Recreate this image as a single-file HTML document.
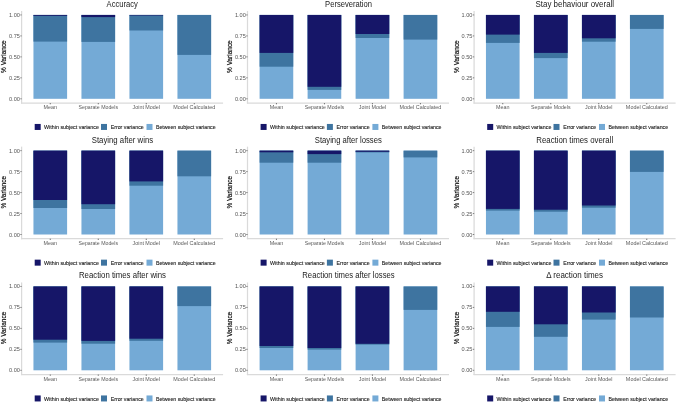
<!DOCTYPE html><html><head><meta charset="utf-8"><style>html,body{margin:0;padding:0;background:#fff;}svg{display:block;will-change:transform;}text{font-family:"Liberation Sans",sans-serif;}</style></head><body>
<svg width="676" height="403" viewBox="0 0 676 403">
<rect width="676" height="403" fill="#fff"/>
<text x="106.6" y="7" font-size="8.6" fill="#1a1a1a" textLength="31.2" lengthAdjust="spacingAndGlyphs">Accuracy</text>
<rect x="33.45" y="14.95" width="33.65" height="83.85" fill="#74aad6"/>
<rect x="33.45" y="14.95" width="33.65" height="26.65" fill="#3e74a0"/>
<rect x="33.45" y="14.95" width="33.65" height="0.85" fill="#161668"/>
<rect x="81.45" y="14.95" width="33.65" height="83.85" fill="#74aad6"/>
<rect x="81.45" y="14.95" width="33.65" height="26.95" fill="#3e74a0"/>
<rect x="81.45" y="14.95" width="33.65" height="2.15" fill="#161668"/>
<rect x="129.45" y="14.95" width="33.65" height="83.85" fill="#74aad6"/>
<rect x="129.45" y="14.95" width="33.65" height="15.55" fill="#3e74a0"/>
<rect x="129.45" y="14.95" width="33.65" height="0.55" fill="#161668"/>
<rect x="177.45" y="14.95" width="33.65" height="83.85" fill="#74aad6"/>
<rect x="177.45" y="14.95" width="33.65" height="39.95" fill="#3e74a0"/>
<line x1="21.6" y1="10.95" x2="21.6" y2="103.6" stroke="#dadada" stroke-width="1.25"/>
<line x1="21" y1="103" x2="223.1" y2="103" stroke="#dadada" stroke-width="1.25"/>
<line x1="20.3" y1="14.95" x2="21.7" y2="14.95" stroke="#666" stroke-width="0.8"/>
<text x="19.9" y="16.95" font-size="5.6" fill="#555555" text-anchor="end" textLength="10.9" lengthAdjust="spacingAndGlyphs">1.00</text>
<line x1="20.3" y1="35.91" x2="21.7" y2="35.91" stroke="#666" stroke-width="0.8"/>
<text x="19.9" y="37.91" font-size="5.6" fill="#555555" text-anchor="end" textLength="10.9" lengthAdjust="spacingAndGlyphs">0.75</text>
<line x1="20.3" y1="56.88" x2="21.7" y2="56.88" stroke="#666" stroke-width="0.8"/>
<text x="19.9" y="58.88" font-size="5.6" fill="#555555" text-anchor="end" textLength="10.9" lengthAdjust="spacingAndGlyphs">0.50</text>
<line x1="20.3" y1="77.84" x2="21.7" y2="77.84" stroke="#666" stroke-width="0.8"/>
<text x="19.9" y="79.84" font-size="5.6" fill="#555555" text-anchor="end" textLength="10.9" lengthAdjust="spacingAndGlyphs">0.25</text>
<line x1="20.3" y1="98.8" x2="21.7" y2="98.8" stroke="#666" stroke-width="0.8"/>
<text x="19.9" y="100.8" font-size="5.6" fill="#555555" text-anchor="end" textLength="10.9" lengthAdjust="spacingAndGlyphs">0.00</text>
<line x1="50.28" y1="103" x2="50.28" y2="104.3" stroke="#555" stroke-width="0.8"/>
<text x="43.53" y="109" font-size="5.3" fill="#5a5a5a" textLength="13.5" lengthAdjust="spacingAndGlyphs">Mean</text>
<line x1="98.28" y1="103" x2="98.28" y2="104.3" stroke="#555" stroke-width="0.8"/>
<text x="78.53" y="109" font-size="5.3" fill="#5a5a5a" textLength="39.5" lengthAdjust="spacingAndGlyphs">Separate Models</text>
<line x1="146.27" y1="103" x2="146.27" y2="104.3" stroke="#555" stroke-width="0.8"/>
<text x="132.57" y="109" font-size="5.3" fill="#5a5a5a" textLength="27.4" lengthAdjust="spacingAndGlyphs">Joint Model</text>
<line x1="194.27" y1="103" x2="194.27" y2="104.3" stroke="#555" stroke-width="0.8"/>
<text x="173.37" y="109" font-size="5.3" fill="#5a5a5a" textLength="41.8" lengthAdjust="spacingAndGlyphs">Model Calculated</text>
<text x="0" y="0" font-size="7" fill="#111" stroke="#111" stroke-width="0.2" text-anchor="middle" textLength="32.6" lengthAdjust="spacingAndGlyphs" transform="translate(6,56.58) rotate(-90)">% Variance</text>
<rect x="34.7" y="123.95" width="6" height="6" fill="#161668"/>
<text x="44.1" y="129.15" font-size="5.3" fill="#1e1e1e" stroke="#1e1e1e" stroke-width="0.12" textLength="54.8" lengthAdjust="spacingAndGlyphs">Within subject variance</text>
<rect x="101" y="123.95" width="6" height="6" fill="#3e74a0"/>
<text x="110.7" y="129.15" font-size="5.3" fill="#1e1e1e" stroke="#1e1e1e" stroke-width="0.12" textLength="33" lengthAdjust="spacingAndGlyphs">Error variance</text>
<rect x="146.5" y="123.95" width="6" height="6" fill="#74aad6"/>
<text x="155.9" y="129.15" font-size="5.3" fill="#1e1e1e" stroke="#1e1e1e" stroke-width="0.12" textLength="59.7" lengthAdjust="spacingAndGlyphs">Between subject variance</text>
<text x="325.1" y="7" font-size="8.6" fill="#1a1a1a" textLength="46.9" lengthAdjust="spacingAndGlyphs">Perseveration</text>
<rect x="259.6" y="14.95" width="33.65" height="83.85" fill="#74aad6"/>
<rect x="259.6" y="14.95" width="33.65" height="51.75" fill="#3e74a0"/>
<rect x="259.6" y="14.95" width="33.65" height="37.95" fill="#161668"/>
<rect x="307.6" y="14.95" width="33.65" height="83.85" fill="#74aad6"/>
<rect x="307.6" y="14.95" width="33.65" height="74.95" fill="#3e74a0"/>
<rect x="307.6" y="14.95" width="33.65" height="71.85" fill="#161668"/>
<rect x="355.6" y="14.95" width="33.65" height="83.85" fill="#74aad6"/>
<rect x="355.6" y="14.95" width="33.65" height="23.05" fill="#3e74a0"/>
<rect x="355.6" y="14.95" width="33.65" height="19.05" fill="#161668"/>
<rect x="403.6" y="14.95" width="33.65" height="83.85" fill="#74aad6"/>
<rect x="403.6" y="14.95" width="33.65" height="24.65" fill="#3e74a0"/>
<line x1="247.5" y1="10.95" x2="247.5" y2="103.6" stroke="#dadada" stroke-width="1.25"/>
<line x1="246.9" y1="103" x2="449" y2="103" stroke="#dadada" stroke-width="1.25"/>
<line x1="246.2" y1="14.95" x2="247.6" y2="14.95" stroke="#666" stroke-width="0.8"/>
<text x="245.8" y="16.95" font-size="5.6" fill="#555555" text-anchor="end" textLength="10.9" lengthAdjust="spacingAndGlyphs">1.00</text>
<line x1="246.2" y1="35.91" x2="247.6" y2="35.91" stroke="#666" stroke-width="0.8"/>
<text x="245.8" y="37.91" font-size="5.6" fill="#555555" text-anchor="end" textLength="10.9" lengthAdjust="spacingAndGlyphs">0.75</text>
<line x1="246.2" y1="56.88" x2="247.6" y2="56.88" stroke="#666" stroke-width="0.8"/>
<text x="245.8" y="58.88" font-size="5.6" fill="#555555" text-anchor="end" textLength="10.9" lengthAdjust="spacingAndGlyphs">0.50</text>
<line x1="246.2" y1="77.84" x2="247.6" y2="77.84" stroke="#666" stroke-width="0.8"/>
<text x="245.8" y="79.84" font-size="5.6" fill="#555555" text-anchor="end" textLength="10.9" lengthAdjust="spacingAndGlyphs">0.25</text>
<line x1="246.2" y1="98.8" x2="247.6" y2="98.8" stroke="#666" stroke-width="0.8"/>
<text x="245.8" y="100.8" font-size="5.6" fill="#555555" text-anchor="end" textLength="10.9" lengthAdjust="spacingAndGlyphs">0.00</text>
<line x1="276.43" y1="103" x2="276.43" y2="104.3" stroke="#555" stroke-width="0.8"/>
<text x="269.68" y="109" font-size="5.3" fill="#5a5a5a" textLength="13.5" lengthAdjust="spacingAndGlyphs">Mean</text>
<line x1="324.43" y1="103" x2="324.43" y2="104.3" stroke="#555" stroke-width="0.8"/>
<text x="304.68" y="109" font-size="5.3" fill="#5a5a5a" textLength="39.5" lengthAdjust="spacingAndGlyphs">Separate Models</text>
<line x1="372.43" y1="103" x2="372.43" y2="104.3" stroke="#555" stroke-width="0.8"/>
<text x="358.73" y="109" font-size="5.3" fill="#5a5a5a" textLength="27.4" lengthAdjust="spacingAndGlyphs">Joint Model</text>
<line x1="420.43" y1="103" x2="420.43" y2="104.3" stroke="#555" stroke-width="0.8"/>
<text x="399.53" y="109" font-size="5.3" fill="#5a5a5a" textLength="41.8" lengthAdjust="spacingAndGlyphs">Model Calculated</text>
<text x="0" y="0" font-size="7" fill="#111" stroke="#111" stroke-width="0.2" text-anchor="middle" textLength="32.6" lengthAdjust="spacingAndGlyphs" transform="translate(231.9,56.58) rotate(-90)">% Variance</text>
<rect x="260.6" y="123.95" width="6" height="6" fill="#161668"/>
<text x="270" y="129.15" font-size="5.3" fill="#1e1e1e" stroke="#1e1e1e" stroke-width="0.12" textLength="54.8" lengthAdjust="spacingAndGlyphs">Within subject variance</text>
<rect x="326.9" y="123.95" width="6" height="6" fill="#3e74a0"/>
<text x="336.6" y="129.15" font-size="5.3" fill="#1e1e1e" stroke="#1e1e1e" stroke-width="0.12" textLength="33" lengthAdjust="spacingAndGlyphs">Error variance</text>
<rect x="372.4" y="123.95" width="6" height="6" fill="#74aad6"/>
<text x="381.8" y="129.15" font-size="5.3" fill="#1e1e1e" stroke="#1e1e1e" stroke-width="0.12" textLength="59.7" lengthAdjust="spacingAndGlyphs">Between subject variance</text>
<text x="535.5" y="7" font-size="8.6" fill="#1a1a1a" textLength="78.6" lengthAdjust="spacingAndGlyphs">Stay behaviour overall</text>
<rect x="485.95" y="14.95" width="33.65" height="83.85" fill="#74aad6"/>
<rect x="485.95" y="14.95" width="33.65" height="27.95" fill="#3e74a0"/>
<rect x="485.95" y="14.95" width="33.65" height="19.65" fill="#161668"/>
<rect x="533.95" y="14.95" width="33.65" height="83.85" fill="#74aad6"/>
<rect x="533.95" y="14.95" width="33.65" height="43.15" fill="#3e74a0"/>
<rect x="533.95" y="14.95" width="33.65" height="37.95" fill="#161668"/>
<rect x="581.95" y="14.95" width="33.65" height="83.85" fill="#74aad6"/>
<rect x="581.95" y="14.95" width="33.65" height="26.75" fill="#3e74a0"/>
<rect x="581.95" y="14.95" width="33.65" height="23.35" fill="#161668"/>
<rect x="629.95" y="14.95" width="33.65" height="83.85" fill="#74aad6"/>
<rect x="629.95" y="14.95" width="33.65" height="13.95" fill="#3e74a0"/>
<line x1="474.1" y1="10.95" x2="474.1" y2="103.6" stroke="#dadada" stroke-width="1.25"/>
<line x1="473.5" y1="103" x2="675.6" y2="103" stroke="#dadada" stroke-width="1.25"/>
<line x1="472.8" y1="14.95" x2="474.2" y2="14.95" stroke="#666" stroke-width="0.8"/>
<text x="472.4" y="16.95" font-size="5.6" fill="#555555" text-anchor="end" textLength="10.9" lengthAdjust="spacingAndGlyphs">1.00</text>
<line x1="472.8" y1="35.91" x2="474.2" y2="35.91" stroke="#666" stroke-width="0.8"/>
<text x="472.4" y="37.91" font-size="5.6" fill="#555555" text-anchor="end" textLength="10.9" lengthAdjust="spacingAndGlyphs">0.75</text>
<line x1="472.8" y1="56.88" x2="474.2" y2="56.88" stroke="#666" stroke-width="0.8"/>
<text x="472.4" y="58.88" font-size="5.6" fill="#555555" text-anchor="end" textLength="10.9" lengthAdjust="spacingAndGlyphs">0.50</text>
<line x1="472.8" y1="77.84" x2="474.2" y2="77.84" stroke="#666" stroke-width="0.8"/>
<text x="472.4" y="79.84" font-size="5.6" fill="#555555" text-anchor="end" textLength="10.9" lengthAdjust="spacingAndGlyphs">0.25</text>
<line x1="472.8" y1="98.8" x2="474.2" y2="98.8" stroke="#666" stroke-width="0.8"/>
<text x="472.4" y="100.8" font-size="5.6" fill="#555555" text-anchor="end" textLength="10.9" lengthAdjust="spacingAndGlyphs">0.00</text>
<line x1="502.77" y1="103" x2="502.77" y2="104.3" stroke="#555" stroke-width="0.8"/>
<text x="496.02" y="109" font-size="5.3" fill="#5a5a5a" textLength="13.5" lengthAdjust="spacingAndGlyphs">Mean</text>
<line x1="550.78" y1="103" x2="550.78" y2="104.3" stroke="#555" stroke-width="0.8"/>
<text x="531.03" y="109" font-size="5.3" fill="#5a5a5a" textLength="39.5" lengthAdjust="spacingAndGlyphs">Separate Models</text>
<line x1="598.78" y1="103" x2="598.78" y2="104.3" stroke="#555" stroke-width="0.8"/>
<text x="585.08" y="109" font-size="5.3" fill="#5a5a5a" textLength="27.4" lengthAdjust="spacingAndGlyphs">Joint Model</text>
<line x1="646.78" y1="103" x2="646.78" y2="104.3" stroke="#555" stroke-width="0.8"/>
<text x="625.88" y="109" font-size="5.3" fill="#5a5a5a" textLength="41.8" lengthAdjust="spacingAndGlyphs">Model Calculated</text>
<text x="0" y="0" font-size="7" fill="#111" stroke="#111" stroke-width="0.2" text-anchor="middle" textLength="32.6" lengthAdjust="spacingAndGlyphs" transform="translate(458.5,56.58) rotate(-90)">% Variance</text>
<rect x="487.2" y="123.95" width="6" height="6" fill="#161668"/>
<text x="496.6" y="129.15" font-size="5.3" fill="#1e1e1e" stroke="#1e1e1e" stroke-width="0.12" textLength="54.8" lengthAdjust="spacingAndGlyphs">Within subject variance</text>
<rect x="553.5" y="123.95" width="6" height="6" fill="#3e74a0"/>
<text x="563.2" y="129.15" font-size="5.3" fill="#1e1e1e" stroke="#1e1e1e" stroke-width="0.12" textLength="33" lengthAdjust="spacingAndGlyphs">Error variance</text>
<rect x="599" y="123.95" width="6" height="6" fill="#74aad6"/>
<text x="608.4" y="129.15" font-size="5.3" fill="#1e1e1e" stroke="#1e1e1e" stroke-width="0.12" textLength="59.7" lengthAdjust="spacingAndGlyphs">Between subject variance</text>
<text x="91.7" y="142.7" font-size="8.6" fill="#1a1a1a" textLength="61.5" lengthAdjust="spacingAndGlyphs">Staying after wins</text>
<rect x="33.45" y="150.65" width="33.65" height="83.85" fill="#74aad6"/>
<rect x="33.45" y="150.65" width="33.65" height="57.35" fill="#3e74a0"/>
<rect x="33.45" y="150.65" width="33.65" height="49.35" fill="#161668"/>
<rect x="81.45" y="150.65" width="33.65" height="83.85" fill="#74aad6"/>
<rect x="81.45" y="150.65" width="33.65" height="58.35" fill="#3e74a0"/>
<rect x="81.45" y="150.65" width="33.65" height="53.55" fill="#161668"/>
<rect x="129.45" y="150.65" width="33.65" height="83.85" fill="#74aad6"/>
<rect x="129.45" y="150.65" width="33.65" height="35.05" fill="#3e74a0"/>
<rect x="129.45" y="150.65" width="33.65" height="30.75" fill="#161668"/>
<rect x="177.45" y="150.65" width="33.65" height="83.85" fill="#74aad6"/>
<rect x="177.45" y="150.65" width="33.65" height="25.65" fill="#3e74a0"/>
<line x1="21.6" y1="146.65" x2="21.6" y2="239.3" stroke="#dadada" stroke-width="1.25"/>
<line x1="21" y1="238.7" x2="223.1" y2="238.7" stroke="#dadada" stroke-width="1.25"/>
<line x1="20.3" y1="150.65" x2="21.7" y2="150.65" stroke="#666" stroke-width="0.8"/>
<text x="19.9" y="152.65" font-size="5.6" fill="#555555" text-anchor="end" textLength="10.9" lengthAdjust="spacingAndGlyphs">1.00</text>
<line x1="20.3" y1="171.61" x2="21.7" y2="171.61" stroke="#666" stroke-width="0.8"/>
<text x="19.9" y="173.61" font-size="5.6" fill="#555555" text-anchor="end" textLength="10.9" lengthAdjust="spacingAndGlyphs">0.75</text>
<line x1="20.3" y1="192.57" x2="21.7" y2="192.57" stroke="#666" stroke-width="0.8"/>
<text x="19.9" y="194.57" font-size="5.6" fill="#555555" text-anchor="end" textLength="10.9" lengthAdjust="spacingAndGlyphs">0.50</text>
<line x1="20.3" y1="213.54" x2="21.7" y2="213.54" stroke="#666" stroke-width="0.8"/>
<text x="19.9" y="215.54" font-size="5.6" fill="#555555" text-anchor="end" textLength="10.9" lengthAdjust="spacingAndGlyphs">0.25</text>
<line x1="20.3" y1="234.5" x2="21.7" y2="234.5" stroke="#666" stroke-width="0.8"/>
<text x="19.9" y="236.5" font-size="5.6" fill="#555555" text-anchor="end" textLength="10.9" lengthAdjust="spacingAndGlyphs">0.00</text>
<line x1="50.28" y1="238.7" x2="50.28" y2="240" stroke="#555" stroke-width="0.8"/>
<text x="43.53" y="244.7" font-size="5.3" fill="#5a5a5a" textLength="13.5" lengthAdjust="spacingAndGlyphs">Mean</text>
<line x1="98.28" y1="238.7" x2="98.28" y2="240" stroke="#555" stroke-width="0.8"/>
<text x="78.53" y="244.7" font-size="5.3" fill="#5a5a5a" textLength="39.5" lengthAdjust="spacingAndGlyphs">Separate Models</text>
<line x1="146.27" y1="238.7" x2="146.27" y2="240" stroke="#555" stroke-width="0.8"/>
<text x="132.57" y="244.7" font-size="5.3" fill="#5a5a5a" textLength="27.4" lengthAdjust="spacingAndGlyphs">Joint Model</text>
<line x1="194.27" y1="238.7" x2="194.27" y2="240" stroke="#555" stroke-width="0.8"/>
<text x="173.37" y="244.7" font-size="5.3" fill="#5a5a5a" textLength="41.8" lengthAdjust="spacingAndGlyphs">Model Calculated</text>
<text x="0" y="0" font-size="7" fill="#111" stroke="#111" stroke-width="0.2" text-anchor="middle" textLength="32.6" lengthAdjust="spacingAndGlyphs" transform="translate(6,192.27) rotate(-90)">% Variance</text>
<rect x="34.7" y="259.65" width="6" height="6" fill="#161668"/>
<text x="44.1" y="264.85" font-size="5.3" fill="#1e1e1e" stroke="#1e1e1e" stroke-width="0.12" textLength="54.8" lengthAdjust="spacingAndGlyphs">Within subject variance</text>
<rect x="101" y="259.65" width="6" height="6" fill="#3e74a0"/>
<text x="110.7" y="264.85" font-size="5.3" fill="#1e1e1e" stroke="#1e1e1e" stroke-width="0.12" textLength="33" lengthAdjust="spacingAndGlyphs">Error variance</text>
<rect x="146.5" y="259.65" width="6" height="6" fill="#74aad6"/>
<text x="155.9" y="264.85" font-size="5.3" fill="#1e1e1e" stroke="#1e1e1e" stroke-width="0.12" textLength="59.7" lengthAdjust="spacingAndGlyphs">Between subject variance</text>
<text x="314.8" y="142.7" font-size="8.6" fill="#1a1a1a" textLength="67" lengthAdjust="spacingAndGlyphs">Staying after losses</text>
<rect x="259.6" y="150.65" width="33.65" height="83.85" fill="#74aad6"/>
<rect x="259.6" y="150.65" width="33.65" height="12.05" fill="#3e74a0"/>
<rect x="259.6" y="150.65" width="33.65" height="1.65" fill="#161668"/>
<rect x="307.6" y="150.65" width="33.65" height="83.85" fill="#74aad6"/>
<rect x="307.6" y="150.65" width="33.65" height="12.05" fill="#3e74a0"/>
<rect x="307.6" y="150.65" width="33.65" height="3.45" fill="#161668"/>
<rect x="355.6" y="150.65" width="33.65" height="83.85" fill="#74aad6"/>
<rect x="355.6" y="150.65" width="33.65" height="1.75" fill="#3e74a0"/>
<rect x="355.6" y="150.65" width="33.65" height="1.15" fill="#161668"/>
<rect x="403.6" y="150.65" width="33.65" height="83.85" fill="#74aad6"/>
<rect x="403.6" y="150.65" width="33.65" height="6.75" fill="#3e74a0"/>
<line x1="247.5" y1="146.65" x2="247.5" y2="239.3" stroke="#dadada" stroke-width="1.25"/>
<line x1="246.9" y1="238.7" x2="449" y2="238.7" stroke="#dadada" stroke-width="1.25"/>
<line x1="246.2" y1="150.65" x2="247.6" y2="150.65" stroke="#666" stroke-width="0.8"/>
<text x="245.8" y="152.65" font-size="5.6" fill="#555555" text-anchor="end" textLength="10.9" lengthAdjust="spacingAndGlyphs">1.00</text>
<line x1="246.2" y1="171.61" x2="247.6" y2="171.61" stroke="#666" stroke-width="0.8"/>
<text x="245.8" y="173.61" font-size="5.6" fill="#555555" text-anchor="end" textLength="10.9" lengthAdjust="spacingAndGlyphs">0.75</text>
<line x1="246.2" y1="192.57" x2="247.6" y2="192.57" stroke="#666" stroke-width="0.8"/>
<text x="245.8" y="194.57" font-size="5.6" fill="#555555" text-anchor="end" textLength="10.9" lengthAdjust="spacingAndGlyphs">0.50</text>
<line x1="246.2" y1="213.54" x2="247.6" y2="213.54" stroke="#666" stroke-width="0.8"/>
<text x="245.8" y="215.54" font-size="5.6" fill="#555555" text-anchor="end" textLength="10.9" lengthAdjust="spacingAndGlyphs">0.25</text>
<line x1="246.2" y1="234.5" x2="247.6" y2="234.5" stroke="#666" stroke-width="0.8"/>
<text x="245.8" y="236.5" font-size="5.6" fill="#555555" text-anchor="end" textLength="10.9" lengthAdjust="spacingAndGlyphs">0.00</text>
<line x1="276.43" y1="238.7" x2="276.43" y2="240" stroke="#555" stroke-width="0.8"/>
<text x="269.68" y="244.7" font-size="5.3" fill="#5a5a5a" textLength="13.5" lengthAdjust="spacingAndGlyphs">Mean</text>
<line x1="324.43" y1="238.7" x2="324.43" y2="240" stroke="#555" stroke-width="0.8"/>
<text x="304.68" y="244.7" font-size="5.3" fill="#5a5a5a" textLength="39.5" lengthAdjust="spacingAndGlyphs">Separate Models</text>
<line x1="372.43" y1="238.7" x2="372.43" y2="240" stroke="#555" stroke-width="0.8"/>
<text x="358.73" y="244.7" font-size="5.3" fill="#5a5a5a" textLength="27.4" lengthAdjust="spacingAndGlyphs">Joint Model</text>
<line x1="420.43" y1="238.7" x2="420.43" y2="240" stroke="#555" stroke-width="0.8"/>
<text x="399.53" y="244.7" font-size="5.3" fill="#5a5a5a" textLength="41.8" lengthAdjust="spacingAndGlyphs">Model Calculated</text>
<text x="0" y="0" font-size="7" fill="#111" stroke="#111" stroke-width="0.2" text-anchor="middle" textLength="32.6" lengthAdjust="spacingAndGlyphs" transform="translate(231.9,192.27) rotate(-90)">% Variance</text>
<rect x="260.6" y="259.65" width="6" height="6" fill="#161668"/>
<text x="270" y="264.85" font-size="5.3" fill="#1e1e1e" stroke="#1e1e1e" stroke-width="0.12" textLength="54.8" lengthAdjust="spacingAndGlyphs">Within subject variance</text>
<rect x="326.9" y="259.65" width="6" height="6" fill="#3e74a0"/>
<text x="336.6" y="264.85" font-size="5.3" fill="#1e1e1e" stroke="#1e1e1e" stroke-width="0.12" textLength="33" lengthAdjust="spacingAndGlyphs">Error variance</text>
<rect x="372.4" y="259.65" width="6" height="6" fill="#74aad6"/>
<text x="381.8" y="264.85" font-size="5.3" fill="#1e1e1e" stroke="#1e1e1e" stroke-width="0.12" textLength="59.7" lengthAdjust="spacingAndGlyphs">Between subject variance</text>
<text x="536.3" y="142.7" font-size="8.6" fill="#1a1a1a" textLength="76.9" lengthAdjust="spacingAndGlyphs">Reaction times overall</text>
<rect x="485.95" y="150.65" width="33.65" height="83.85" fill="#74aad6"/>
<rect x="485.95" y="150.65" width="33.65" height="59.95" fill="#3e74a0"/>
<rect x="485.95" y="150.65" width="33.65" height="58.25" fill="#161668"/>
<rect x="533.95" y="150.65" width="33.65" height="83.85" fill="#74aad6"/>
<rect x="533.95" y="150.65" width="33.65" height="61.05" fill="#3e74a0"/>
<rect x="533.95" y="150.65" width="33.65" height="59.05" fill="#161668"/>
<rect x="581.95" y="150.65" width="33.65" height="83.85" fill="#74aad6"/>
<rect x="581.95" y="150.65" width="33.65" height="57.05" fill="#3e74a0"/>
<rect x="581.95" y="150.65" width="33.65" height="54.85" fill="#161668"/>
<rect x="629.95" y="150.65" width="33.65" height="83.85" fill="#74aad6"/>
<rect x="629.95" y="150.65" width="33.65" height="21.25" fill="#3e74a0"/>
<line x1="474.1" y1="146.65" x2="474.1" y2="239.3" stroke="#dadada" stroke-width="1.25"/>
<line x1="473.5" y1="238.7" x2="675.6" y2="238.7" stroke="#dadada" stroke-width="1.25"/>
<line x1="472.8" y1="150.65" x2="474.2" y2="150.65" stroke="#666" stroke-width="0.8"/>
<text x="472.4" y="152.65" font-size="5.6" fill="#555555" text-anchor="end" textLength="10.9" lengthAdjust="spacingAndGlyphs">1.00</text>
<line x1="472.8" y1="171.61" x2="474.2" y2="171.61" stroke="#666" stroke-width="0.8"/>
<text x="472.4" y="173.61" font-size="5.6" fill="#555555" text-anchor="end" textLength="10.9" lengthAdjust="spacingAndGlyphs">0.75</text>
<line x1="472.8" y1="192.57" x2="474.2" y2="192.57" stroke="#666" stroke-width="0.8"/>
<text x="472.4" y="194.57" font-size="5.6" fill="#555555" text-anchor="end" textLength="10.9" lengthAdjust="spacingAndGlyphs">0.50</text>
<line x1="472.8" y1="213.54" x2="474.2" y2="213.54" stroke="#666" stroke-width="0.8"/>
<text x="472.4" y="215.54" font-size="5.6" fill="#555555" text-anchor="end" textLength="10.9" lengthAdjust="spacingAndGlyphs">0.25</text>
<line x1="472.8" y1="234.5" x2="474.2" y2="234.5" stroke="#666" stroke-width="0.8"/>
<text x="472.4" y="236.5" font-size="5.6" fill="#555555" text-anchor="end" textLength="10.9" lengthAdjust="spacingAndGlyphs">0.00</text>
<line x1="502.77" y1="238.7" x2="502.77" y2="240" stroke="#555" stroke-width="0.8"/>
<text x="496.02" y="244.7" font-size="5.3" fill="#5a5a5a" textLength="13.5" lengthAdjust="spacingAndGlyphs">Mean</text>
<line x1="550.78" y1="238.7" x2="550.78" y2="240" stroke="#555" stroke-width="0.8"/>
<text x="531.03" y="244.7" font-size="5.3" fill="#5a5a5a" textLength="39.5" lengthAdjust="spacingAndGlyphs">Separate Models</text>
<line x1="598.78" y1="238.7" x2="598.78" y2="240" stroke="#555" stroke-width="0.8"/>
<text x="585.08" y="244.7" font-size="5.3" fill="#5a5a5a" textLength="27.4" lengthAdjust="spacingAndGlyphs">Joint Model</text>
<line x1="646.78" y1="238.7" x2="646.78" y2="240" stroke="#555" stroke-width="0.8"/>
<text x="625.88" y="244.7" font-size="5.3" fill="#5a5a5a" textLength="41.8" lengthAdjust="spacingAndGlyphs">Model Calculated</text>
<text x="0" y="0" font-size="7" fill="#111" stroke="#111" stroke-width="0.2" text-anchor="middle" textLength="32.6" lengthAdjust="spacingAndGlyphs" transform="translate(458.5,192.27) rotate(-90)">% Variance</text>
<rect x="487.2" y="259.65" width="6" height="6" fill="#161668"/>
<text x="496.6" y="264.85" font-size="5.3" fill="#1e1e1e" stroke="#1e1e1e" stroke-width="0.12" textLength="54.8" lengthAdjust="spacingAndGlyphs">Within subject variance</text>
<rect x="553.5" y="259.65" width="6" height="6" fill="#3e74a0"/>
<text x="563.2" y="264.85" font-size="5.3" fill="#1e1e1e" stroke="#1e1e1e" stroke-width="0.12" textLength="33" lengthAdjust="spacingAndGlyphs">Error variance</text>
<rect x="599" y="259.65" width="6" height="6" fill="#74aad6"/>
<text x="608.4" y="264.85" font-size="5.3" fill="#1e1e1e" stroke="#1e1e1e" stroke-width="0.12" textLength="59.7" lengthAdjust="spacingAndGlyphs">Between subject variance</text>
<text x="79" y="278.3" font-size="8.6" fill="#1a1a1a" textLength="87" lengthAdjust="spacingAndGlyphs">Reaction times after wins</text>
<rect x="33.45" y="286.45" width="33.65" height="83.85" fill="#74aad6"/>
<rect x="33.45" y="286.45" width="33.65" height="56.15" fill="#3e74a0"/>
<rect x="33.45" y="286.45" width="33.65" height="53.25" fill="#161668"/>
<rect x="81.45" y="286.45" width="33.65" height="83.85" fill="#74aad6"/>
<rect x="81.45" y="286.45" width="33.65" height="57.25" fill="#3e74a0"/>
<rect x="81.45" y="286.45" width="33.65" height="54.45" fill="#161668"/>
<rect x="129.45" y="286.45" width="33.65" height="83.85" fill="#74aad6"/>
<rect x="129.45" y="286.45" width="33.65" height="54.35" fill="#3e74a0"/>
<rect x="129.45" y="286.45" width="33.65" height="52.25" fill="#161668"/>
<rect x="177.45" y="286.45" width="33.65" height="83.85" fill="#74aad6"/>
<rect x="177.45" y="286.45" width="33.65" height="19.65" fill="#3e74a0"/>
<line x1="21.6" y1="282.45" x2="21.6" y2="375.1" stroke="#dadada" stroke-width="1.25"/>
<line x1="21" y1="374.5" x2="223.1" y2="374.5" stroke="#dadada" stroke-width="1.25"/>
<line x1="20.3" y1="286.45" x2="21.7" y2="286.45" stroke="#666" stroke-width="0.8"/>
<text x="19.9" y="288.45" font-size="5.6" fill="#555555" text-anchor="end" textLength="10.9" lengthAdjust="spacingAndGlyphs">1.00</text>
<line x1="20.3" y1="307.41" x2="21.7" y2="307.41" stroke="#666" stroke-width="0.8"/>
<text x="19.9" y="309.41" font-size="5.6" fill="#555555" text-anchor="end" textLength="10.9" lengthAdjust="spacingAndGlyphs">0.75</text>
<line x1="20.3" y1="328.38" x2="21.7" y2="328.38" stroke="#666" stroke-width="0.8"/>
<text x="19.9" y="330.38" font-size="5.6" fill="#555555" text-anchor="end" textLength="10.9" lengthAdjust="spacingAndGlyphs">0.50</text>
<line x1="20.3" y1="349.34" x2="21.7" y2="349.34" stroke="#666" stroke-width="0.8"/>
<text x="19.9" y="351.34" font-size="5.6" fill="#555555" text-anchor="end" textLength="10.9" lengthAdjust="spacingAndGlyphs">0.25</text>
<line x1="20.3" y1="370.3" x2="21.7" y2="370.3" stroke="#666" stroke-width="0.8"/>
<text x="19.9" y="372.3" font-size="5.6" fill="#555555" text-anchor="end" textLength="10.9" lengthAdjust="spacingAndGlyphs">0.00</text>
<line x1="50.28" y1="374.5" x2="50.28" y2="375.8" stroke="#555" stroke-width="0.8"/>
<text x="43.53" y="380.5" font-size="5.3" fill="#5a5a5a" textLength="13.5" lengthAdjust="spacingAndGlyphs">Mean</text>
<line x1="98.28" y1="374.5" x2="98.28" y2="375.8" stroke="#555" stroke-width="0.8"/>
<text x="78.53" y="380.5" font-size="5.3" fill="#5a5a5a" textLength="39.5" lengthAdjust="spacingAndGlyphs">Separate Models</text>
<line x1="146.27" y1="374.5" x2="146.27" y2="375.8" stroke="#555" stroke-width="0.8"/>
<text x="132.57" y="380.5" font-size="5.3" fill="#5a5a5a" textLength="27.4" lengthAdjust="spacingAndGlyphs">Joint Model</text>
<line x1="194.27" y1="374.5" x2="194.27" y2="375.8" stroke="#555" stroke-width="0.8"/>
<text x="173.37" y="380.5" font-size="5.3" fill="#5a5a5a" textLength="41.8" lengthAdjust="spacingAndGlyphs">Model Calculated</text>
<text x="0" y="0" font-size="7" fill="#111" stroke="#111" stroke-width="0.2" text-anchor="middle" textLength="32.6" lengthAdjust="spacingAndGlyphs" transform="translate(6,328.07) rotate(-90)">% Variance</text>
<rect x="34.7" y="395.45" width="6" height="6" fill="#161668"/>
<text x="44.1" y="400.65" font-size="5.3" fill="#1e1e1e" stroke="#1e1e1e" stroke-width="0.12" textLength="54.8" lengthAdjust="spacingAndGlyphs">Within subject variance</text>
<rect x="101" y="395.45" width="6" height="6" fill="#3e74a0"/>
<text x="110.7" y="400.65" font-size="5.3" fill="#1e1e1e" stroke="#1e1e1e" stroke-width="0.12" textLength="33" lengthAdjust="spacingAndGlyphs">Error variance</text>
<rect x="146.5" y="395.45" width="6" height="6" fill="#74aad6"/>
<text x="155.9" y="400.65" font-size="5.3" fill="#1e1e1e" stroke="#1e1e1e" stroke-width="0.12" textLength="59.7" lengthAdjust="spacingAndGlyphs">Between subject variance</text>
<text x="302.3" y="278.3" font-size="8.6" fill="#1a1a1a" textLength="92.3" lengthAdjust="spacingAndGlyphs">Reaction times after losses</text>
<rect x="259.6" y="286.45" width="33.65" height="83.85" fill="#74aad6"/>
<rect x="259.6" y="286.45" width="33.65" height="61.55" fill="#3e74a0"/>
<rect x="259.6" y="286.45" width="33.65" height="59.55" fill="#161668"/>
<rect x="307.6" y="286.45" width="33.65" height="83.85" fill="#74aad6"/>
<rect x="307.6" y="286.45" width="33.65" height="63.15" fill="#3e74a0"/>
<rect x="307.6" y="286.45" width="33.65" height="61.55" fill="#161668"/>
<rect x="355.6" y="286.45" width="33.65" height="83.85" fill="#74aad6"/>
<rect x="355.6" y="286.45" width="33.65" height="58.15" fill="#3e74a0"/>
<rect x="355.6" y="286.45" width="33.65" height="57.35" fill="#161668"/>
<rect x="403.6" y="286.45" width="33.65" height="83.85" fill="#74aad6"/>
<rect x="403.6" y="286.45" width="33.65" height="23.45" fill="#3e74a0"/>
<line x1="247.5" y1="282.45" x2="247.5" y2="375.1" stroke="#dadada" stroke-width="1.25"/>
<line x1="246.9" y1="374.5" x2="449" y2="374.5" stroke="#dadada" stroke-width="1.25"/>
<line x1="246.2" y1="286.45" x2="247.6" y2="286.45" stroke="#666" stroke-width="0.8"/>
<text x="245.8" y="288.45" font-size="5.6" fill="#555555" text-anchor="end" textLength="10.9" lengthAdjust="spacingAndGlyphs">1.00</text>
<line x1="246.2" y1="307.41" x2="247.6" y2="307.41" stroke="#666" stroke-width="0.8"/>
<text x="245.8" y="309.41" font-size="5.6" fill="#555555" text-anchor="end" textLength="10.9" lengthAdjust="spacingAndGlyphs">0.75</text>
<line x1="246.2" y1="328.38" x2="247.6" y2="328.38" stroke="#666" stroke-width="0.8"/>
<text x="245.8" y="330.38" font-size="5.6" fill="#555555" text-anchor="end" textLength="10.9" lengthAdjust="spacingAndGlyphs">0.50</text>
<line x1="246.2" y1="349.34" x2="247.6" y2="349.34" stroke="#666" stroke-width="0.8"/>
<text x="245.8" y="351.34" font-size="5.6" fill="#555555" text-anchor="end" textLength="10.9" lengthAdjust="spacingAndGlyphs">0.25</text>
<line x1="246.2" y1="370.3" x2="247.6" y2="370.3" stroke="#666" stroke-width="0.8"/>
<text x="245.8" y="372.3" font-size="5.6" fill="#555555" text-anchor="end" textLength="10.9" lengthAdjust="spacingAndGlyphs">0.00</text>
<line x1="276.43" y1="374.5" x2="276.43" y2="375.8" stroke="#555" stroke-width="0.8"/>
<text x="269.68" y="380.5" font-size="5.3" fill="#5a5a5a" textLength="13.5" lengthAdjust="spacingAndGlyphs">Mean</text>
<line x1="324.43" y1="374.5" x2="324.43" y2="375.8" stroke="#555" stroke-width="0.8"/>
<text x="304.68" y="380.5" font-size="5.3" fill="#5a5a5a" textLength="39.5" lengthAdjust="spacingAndGlyphs">Separate Models</text>
<line x1="372.43" y1="374.5" x2="372.43" y2="375.8" stroke="#555" stroke-width="0.8"/>
<text x="358.73" y="380.5" font-size="5.3" fill="#5a5a5a" textLength="27.4" lengthAdjust="spacingAndGlyphs">Joint Model</text>
<line x1="420.43" y1="374.5" x2="420.43" y2="375.8" stroke="#555" stroke-width="0.8"/>
<text x="399.53" y="380.5" font-size="5.3" fill="#5a5a5a" textLength="41.8" lengthAdjust="spacingAndGlyphs">Model Calculated</text>
<text x="0" y="0" font-size="7" fill="#111" stroke="#111" stroke-width="0.2" text-anchor="middle" textLength="32.6" lengthAdjust="spacingAndGlyphs" transform="translate(231.9,328.07) rotate(-90)">% Variance</text>
<rect x="260.6" y="395.45" width="6" height="6" fill="#161668"/>
<text x="270" y="400.65" font-size="5.3" fill="#1e1e1e" stroke="#1e1e1e" stroke-width="0.12" textLength="54.8" lengthAdjust="spacingAndGlyphs">Within subject variance</text>
<rect x="326.9" y="395.45" width="6" height="6" fill="#3e74a0"/>
<text x="336.6" y="400.65" font-size="5.3" fill="#1e1e1e" stroke="#1e1e1e" stroke-width="0.12" textLength="33" lengthAdjust="spacingAndGlyphs">Error variance</text>
<rect x="372.4" y="395.45" width="6" height="6" fill="#74aad6"/>
<text x="381.8" y="400.65" font-size="5.3" fill="#1e1e1e" stroke="#1e1e1e" stroke-width="0.12" textLength="59.7" lengthAdjust="spacingAndGlyphs">Between subject variance</text>
<text x="546.2" y="278.3" font-size="8.6" fill="#1a1a1a" textLength="56.8" lengthAdjust="spacingAndGlyphs">Δ reaction times</text>
<rect x="485.95" y="286.45" width="33.65" height="83.85" fill="#74aad6"/>
<rect x="485.95" y="286.45" width="33.65" height="40.45" fill="#3e74a0"/>
<rect x="485.95" y="286.45" width="33.65" height="25.35" fill="#161668"/>
<rect x="533.95" y="286.45" width="33.65" height="83.85" fill="#74aad6"/>
<rect x="533.95" y="286.45" width="33.65" height="50.35" fill="#3e74a0"/>
<rect x="533.95" y="286.45" width="33.65" height="37.85" fill="#161668"/>
<rect x="581.95" y="286.45" width="33.65" height="83.85" fill="#74aad6"/>
<rect x="581.95" y="286.45" width="33.65" height="33.15" fill="#3e74a0"/>
<rect x="581.95" y="286.45" width="33.65" height="26.05" fill="#161668"/>
<rect x="629.95" y="286.45" width="33.65" height="83.85" fill="#74aad6"/>
<rect x="629.95" y="286.45" width="33.65" height="31.05" fill="#3e74a0"/>
<line x1="474.1" y1="282.45" x2="474.1" y2="375.1" stroke="#dadada" stroke-width="1.25"/>
<line x1="473.5" y1="374.5" x2="675.6" y2="374.5" stroke="#dadada" stroke-width="1.25"/>
<line x1="472.8" y1="286.45" x2="474.2" y2="286.45" stroke="#666" stroke-width="0.8"/>
<text x="472.4" y="288.45" font-size="5.6" fill="#555555" text-anchor="end" textLength="10.9" lengthAdjust="spacingAndGlyphs">1.00</text>
<line x1="472.8" y1="307.41" x2="474.2" y2="307.41" stroke="#666" stroke-width="0.8"/>
<text x="472.4" y="309.41" font-size="5.6" fill="#555555" text-anchor="end" textLength="10.9" lengthAdjust="spacingAndGlyphs">0.75</text>
<line x1="472.8" y1="328.38" x2="474.2" y2="328.38" stroke="#666" stroke-width="0.8"/>
<text x="472.4" y="330.38" font-size="5.6" fill="#555555" text-anchor="end" textLength="10.9" lengthAdjust="spacingAndGlyphs">0.50</text>
<line x1="472.8" y1="349.34" x2="474.2" y2="349.34" stroke="#666" stroke-width="0.8"/>
<text x="472.4" y="351.34" font-size="5.6" fill="#555555" text-anchor="end" textLength="10.9" lengthAdjust="spacingAndGlyphs">0.25</text>
<line x1="472.8" y1="370.3" x2="474.2" y2="370.3" stroke="#666" stroke-width="0.8"/>
<text x="472.4" y="372.3" font-size="5.6" fill="#555555" text-anchor="end" textLength="10.9" lengthAdjust="spacingAndGlyphs">0.00</text>
<line x1="502.77" y1="374.5" x2="502.77" y2="375.8" stroke="#555" stroke-width="0.8"/>
<text x="496.02" y="380.5" font-size="5.3" fill="#5a5a5a" textLength="13.5" lengthAdjust="spacingAndGlyphs">Mean</text>
<line x1="550.78" y1="374.5" x2="550.78" y2="375.8" stroke="#555" stroke-width="0.8"/>
<text x="531.03" y="380.5" font-size="5.3" fill="#5a5a5a" textLength="39.5" lengthAdjust="spacingAndGlyphs">Separate Models</text>
<line x1="598.78" y1="374.5" x2="598.78" y2="375.8" stroke="#555" stroke-width="0.8"/>
<text x="585.08" y="380.5" font-size="5.3" fill="#5a5a5a" textLength="27.4" lengthAdjust="spacingAndGlyphs">Joint Model</text>
<line x1="646.78" y1="374.5" x2="646.78" y2="375.8" stroke="#555" stroke-width="0.8"/>
<text x="625.88" y="380.5" font-size="5.3" fill="#5a5a5a" textLength="41.8" lengthAdjust="spacingAndGlyphs">Model Calculated</text>
<text x="0" y="0" font-size="7" fill="#111" stroke="#111" stroke-width="0.2" text-anchor="middle" textLength="32.6" lengthAdjust="spacingAndGlyphs" transform="translate(458.5,328.07) rotate(-90)">% Variance</text>
<rect x="487.2" y="395.45" width="6" height="6" fill="#161668"/>
<text x="496.6" y="400.65" font-size="5.3" fill="#1e1e1e" stroke="#1e1e1e" stroke-width="0.12" textLength="54.8" lengthAdjust="spacingAndGlyphs">Within subject variance</text>
<rect x="553.5" y="395.45" width="6" height="6" fill="#3e74a0"/>
<text x="563.2" y="400.65" font-size="5.3" fill="#1e1e1e" stroke="#1e1e1e" stroke-width="0.12" textLength="33" lengthAdjust="spacingAndGlyphs">Error variance</text>
<rect x="599" y="395.45" width="6" height="6" fill="#74aad6"/>
<text x="608.4" y="400.65" font-size="5.3" fill="#1e1e1e" stroke="#1e1e1e" stroke-width="0.12" textLength="59.7" lengthAdjust="spacingAndGlyphs">Between subject variance</text>
</svg></body></html>
